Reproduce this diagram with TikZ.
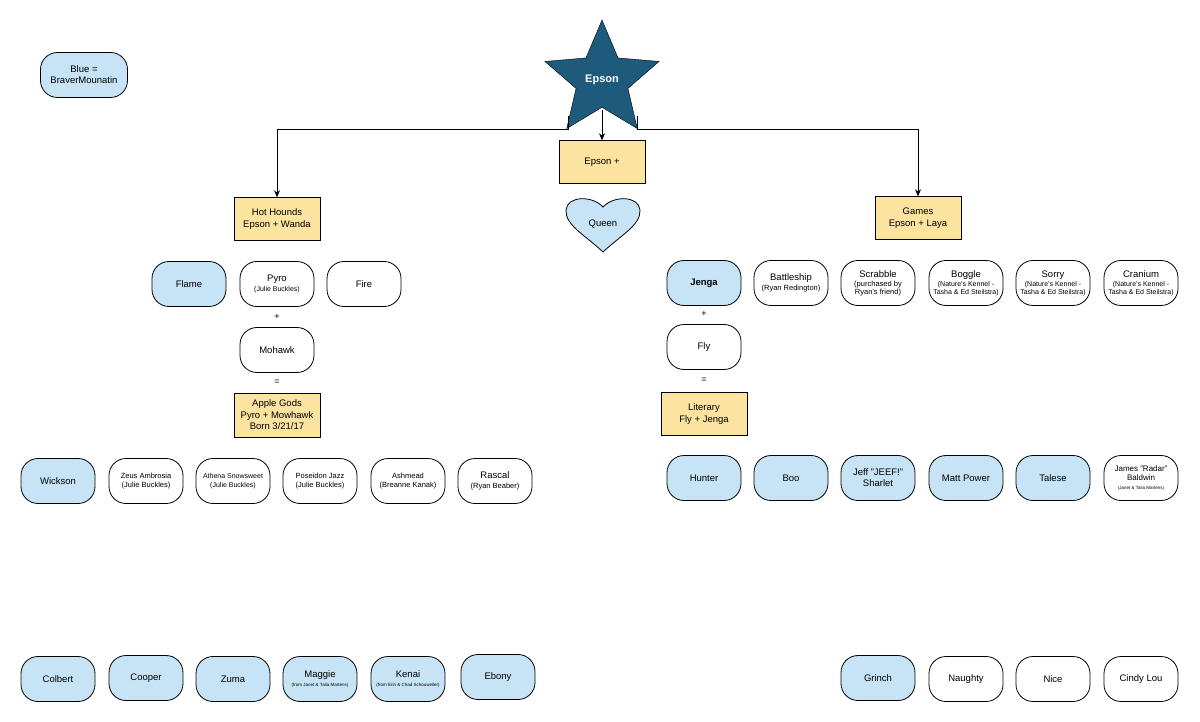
\documentclass[tikz,border=0pt]{standalone}
\usepackage{fontspec}
\setmainfont{Liberation Sans}
\usetikzlibrary{shapes.geometric,arrows.meta}
\definecolor{bl}{HTML}{C6E4F6}
\definecolor{yl}{HTML}{FCE3A0}
\definecolor{st}{HTML}{1E5A7C}
\begin{document}
\begin{tikzpicture}[x=1pt,y=-1pt,
  r/.style={draw,thick,rounded corners=17pt,minimum width=74pt,minimum height=45pt,align=center,font=\fontsize{9.5}{11}\selectfont,fill=white},
  b/.style={r,fill=bl},
  yb/.style={draw,fill=yl,minimum width=86pt,minimum height=43pt,align=center,font=\fontsize{9.5}{11.5}\selectfont},
  s/.style={font=\fontsize{7.5}{9}\selectfont},
  op/.style={font=\fontsize{9}{10}\selectfont},
  ar/.style={thick,-{Stealth[length=7pt,width=6pt]}}]
\useasboundingbox (0,0) rectangle (1200,722);
\node[b] (legend) at (84,75) [minimum width=87pt] {Blue =\\BraverMounatin};
\node[star,star points=5,star point ratio=2.2,minimum size=120pt,fill=st,draw=black,text=white,font=\bfseries\fontsize{11}{12}\selectfont,inner sep=0pt] (epson) at (602,80) {Epson};
\node[yb] (ep) at (602,162) {Epson +};
\draw[thick,fill=bl] (603,252) .. controls (585,235) and (565,225) .. (566,210) .. controls (567,196) and (592,195) .. (603,207) .. controls (614,195) and (639,196) .. (640,210) .. controls (641,225) and (621,235) .. (603,252) -- cycle;
\node[font=\fontsize{9.5}{11}\selectfont] (queen) at (603,224) {Queen};
\node[yb] (hh) at (277,219) {Hot Hounds\\Epson + Wanda};
\node[yb] (games) at (918,218) {Games\\Epson + Laya};
\coordinate (cl) at (277,129);
\coordinate (cr) at (918,129);
\coordinate (sl) at (568,129);
\coordinate (sr) at (637,129);
\coordinate (sl0) at (568,116);
\coordinate (sr0) at (637,116);
\draw[thick] (sl0) -- (sl) -- (cl);
\draw[ar] (cl) -- (hh.north);
\draw[thick] (sr0) -- (sr) -- (cr);
\draw[ar] (cr) -- (games.north);
\draw[ar] (epson.center) ++(0,30) -- (ep.north);
% left tree
\node[b] (flame) at (189,284) {Flame};
\node[r] (pyro) at (277,284) {Pyro\\[-1pt]{\fontsize{7}{8}\selectfont (Julie Buckles)}};
\node[r] (fire) at (364,284) {Fire};
\node[op] (p1) at (277,317) {+};
\node[r] (mohawk) at (277,350) {Mohawk};
\node[op] (e1) at (277,382) {=};
\node[yb,minimum height=44pt] (apple) at (277,415) {Apple Gods\\Pyro + Mowhawk\\Born 3/21/17};
\node[b] (wickson) at (58,481) {Wickson};
\node[r,s] (zeus) at (146,481) {Zeus Ambrosia\\(Julie Buckles)};
\node[r,s,font=\fontsize{7}{9}\selectfont] (athena) at (233,481) {Athena Snowsweet\\(Julie Buckles)};
\node[r,s] (poseidon) at (320,481) {Poseidon Jazz\\(Julie Buckles)};
\node[r,s] (ashmead) at (408,481) {Ashmead\\(Breanne Kanak)};
\node[r] (rascal) at (495,481) {Rascal\\[-1pt]{\fontsize{7.5}{8}\selectfont(Ryan Beaber)}};
\node[b] (colbert) at (58,679) {Colbert};
\node[b] (cooper) at (146,678) {Cooper};
\node[b] (zuma) at (233,679) {Zuma};
\node[b] (maggie) at (320,679) {Maggie\\[-2pt]{\fontsize{4.5}{5}\selectfont(from Janet \& Talia Martens)}};
\node[b] (kenai) at (408,679) {Kenai\\[-2pt]{\fontsize{4.5}{5}\selectfont(from Erin \& Chad Schouweiler)}};
\node[b] (ebony) at (498,677) {Ebony};
% right tree
\node[b,font=\bfseries\fontsize{9.5}{11}\selectfont] (jenga) at (704,283) {Jenga};
\node[r] (battle) at (791,283) {Battleship\\[-1pt]{\fontsize{7.5}{8}\selectfont(Ryan Redington)}};
\node[r] (scrabble) at (878,283) {Scrabble\\[-2pt]{\fontsize{7.5}{8}\selectfont(purchased by}\\[-3pt]{\fontsize{7.5}{8}\selectfont Ryan's friend)}};
\node[r] (boggle) at (966,283) {Boggle\\[-2pt]{\fontsize{7}{8}\selectfont(Nature's Kennel -}\\[-3pt]{\fontsize{7}{8}\selectfont Tasha \& Ed Steilstra)}};
\node[r] (sorry) at (1053,283) {Sorry\\[-2pt]{\fontsize{7}{8}\selectfont(Nature's Kennel -}\\[-3pt]{\fontsize{7}{8}\selectfont Tasha \& Ed Steilstra)}};
\node[r] (cranium) at (1141,283) {Cranium\\[-2pt]{\fontsize{7}{8}\selectfont(Nature's Kennel -}\\[-3pt]{\fontsize{7}{8}\selectfont Tasha \& Ed Steilstra)}};
\node[op] (p2) at (704,314) {+};
\node[r] (fly) at (704,347) {Fly};
\node[op] (e2) at (704,380) {=};
\node[yb] (literary) at (704,414) {Literary\\Fly + Jenga};
\node[b] (hunter) at (704,478) {Hunter};
\node[b] (boo) at (791,478) {Boo};
\node[b] (jeff) at (878,478) {Jeff "JEEF!"\\Sharlet};
\node[b] (matt) at (966,478) {Matt Power};
\node[b] (talese) at (1053,478) {Talese};
\node[r] (james) at (1141,478) {{\fontsize{8}{9}\selectfont James "Radar"}\\[-2pt]{\fontsize{8}{9}\selectfont Baldwin}\\[-2pt]{\fontsize{4.5}{5}\selectfont(Janet \& Talia Martens)}};
\node[b] (grinch) at (878,678) {Grinch};
\node[r] (naughty) at (966,679) {Naughty};
\node[r] (nice) at (1053,679) {Nice};
\node[r] (cindy) at (1141,679) {Cindy Lou};
\end{tikzpicture}
\end{document}
